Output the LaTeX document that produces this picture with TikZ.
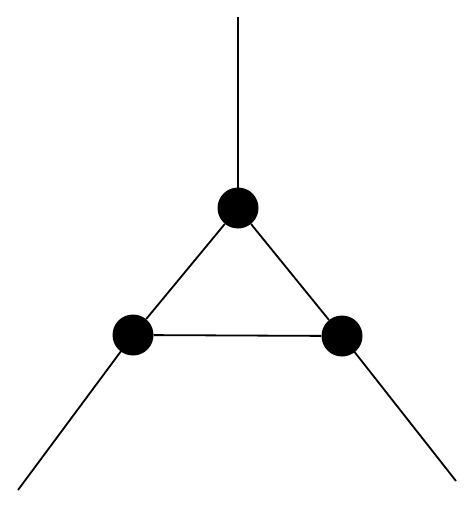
\documentclass[tikz,border=0pt]{standalone}
\begin{document}
\begin{tikzpicture}[x=1pt,y=-1pt,
  vtx/.style={circle,fill=black,inner sep=0pt,minimum size=41pt},
  edge/.style={line width=1.8pt,black}]
\useasboundingbox (0,0) rectangle (474,508);
\node[vtx] (t) at (238,208) {};
\node[vtx] (l) at (133,335) {};
\node[vtx] (r) at (342,336) {};
\coordinate (te) at (238,17);
\coordinate (le) at (18,490);
\coordinate (re) at (456,481);
\draw[edge] (t.center) -- (te);
\draw[edge] (l.center) -- (le);
\draw[edge] (r.center) -- (re);
\draw[edge] (t) -- (l);
\draw[edge] (t) -- (r);
\draw[edge] (l) -- (r);
\end{tikzpicture}
\end{document}
